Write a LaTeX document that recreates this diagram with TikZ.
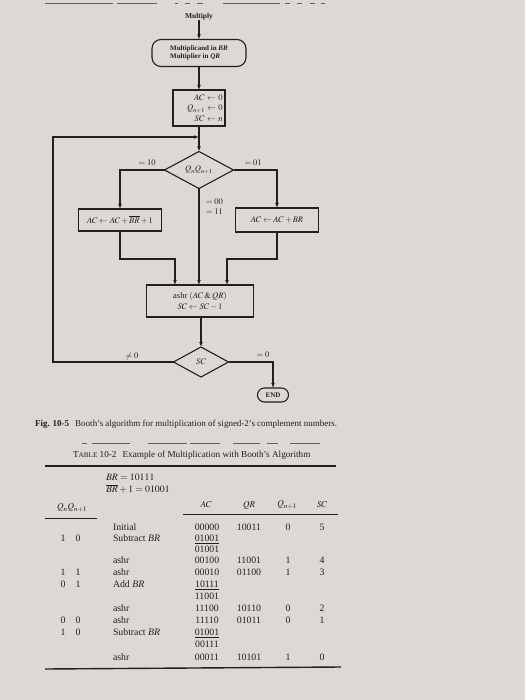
\documentclass[tikz,border=0pt]{standalone}
\usepackage{mathptmx}
\usepackage{fontspec}
\setmainfont{Liberation Serif}
\usetikzlibrary{arrows.meta,shapes.geometric}
\definecolor{paper}{RGB}{220,217,212}
\definecolor{ink}{RGB}{32,32,32}
\definecolor{faint}{RGB}{95,95,95}
\newcommand{\fsz}[2]{\fontsize{#1}{#2}\selectfont}
\begin{document}
\begin{tikzpicture}[x=1pt,y=-1pt,
  every node/.style={text=ink,inner sep=0pt,outer sep=0pt},
  flow/.style={draw=ink,line width=1.3pt},
  arr/.style={flow,-{Latex[length=5pt,width=3.8pt]}},
  procbox/.style={draw=ink,line width=1.1pt,rectangle,font=\fsz{8.5}{10.5}},
  termbox/.style={draw=ink,line width=1.1pt,rectangle,rounded corners=9pt,font=\fsz{7}{8.5}\bfseries},
  decision/.style={draw=ink,line width=1.1pt,diamond,font=\fsz{8.5}{10}},
  lab/.style={font=\fsz{8.5}{10}},
  tcell/.style={font=\fsz{9.8}{11}},
  thead/.style={font=\fsz{9}{10}},
  pagerule/.style={draw=faint,line width=0.8pt}]
\useasboundingbox (0,0) rectangle (525,700);
\fill[paper] (0,0) rectangle (525,700);

% page artifacts (rules at top and between figure and table)
\draw[pagerule] (45,3) -- (113,3) (117,3) -- (157,3) (175,3) -- (178,3) (185,3) -- (190,3) (197,3) -- (203,3) (223,3) -- (280,3) (285,3) -- (290,3) (297,3) -- (302,3) (310,3) -- (315,3) (321,3) -- (325,3);
\draw[pagerule] (82,443) -- (87,443) (92,443) -- (130,443) (148,443) -- (187,443) (190,443) -- (220,443) (233,443) -- (260,443) (267,443) -- (278,443) (290,443) -- (320,443);

% ---------------- flowchart ----------------
\node[font=\fsz{7.5}{9}\bfseries] (mul) at (199,17) {Multiply};
\node[termbox,minimum width=94pt,minimum height=27pt,align=left] (start) at (199,53)
  {Multiplicand in \textit{BR}\\Multiplier in \textit{QR}};
\node[procbox,minimum width=52pt,minimum height=36pt,text width=47pt,align=right] (init) at (199,108)
  {$AC\leftarrow 0$\\$Q_{n+1}\leftarrow 0$\\$SC\leftarrow n$};
\node[decision,minimum width=69pt,minimum height=37pt] (q) at (199,170) {$Q_nQ_{n+1}$};
\node[procbox,minimum width=83pt,minimum height=22pt] (addc) at (120,220) {$AC\leftarrow AC+\overline{BR}+1$};
\node[procbox,minimum width=83pt,minimum height=24pt] (addb) at (277,220) {$AC\leftarrow AC+BR$};
\node[procbox,minimum width=107pt,minimum height=32pt,align=center] (ashr) at (200,301)
  {ashr $(AC\mathbin{\&}QR)$\\$SC\leftarrow SC-1$};
\node[decision,minimum width=55pt,minimum height=30pt] (sc) at (201,362) {$SC$};
\node[termbox,rounded corners=7pt,minimum width=31pt,minimum height=14pt] (end) at (273,395) {END};

\coordinate (loopb) at (53,362);
\coordinate (loopt) at (53,137);
\coordinate (ljoin) at (175,259);
\coordinate (rjoin) at (227,259);

\draw[arr] (mul) -- (start);
\draw[arr] (start) -- (init);
\draw[arr] (init) -- (q);
\draw[arr] (sc.west) -- (loopb) -- (loopt) -- (loopt -| init.south);
\draw[arr] (q.west) -| (addc.north);
\draw[arr] (q.east) -| (addb.north);
\draw[arr] (q.south) -- (q.south |- ashr.north);
\draw[arr] (addc.south) |- (ljoin) -- (ljoin |- ashr.north);
\draw[arr] (addb.south) |- (rjoin) -- (rjoin |- ashr.north);
\draw[arr] (ashr.south -| sc.north) -- (sc.north);
\draw[arr] (sc.east) -| (end.north);

\node[lab] (l10) at (147,163) {$=10$};
\node[lab] (l01) at (253,163) {$=01$};
\node[lab,anchor=west] (l00) at (206,202) {$=00$};
\node[lab,anchor=west] (l11) at (206,212) {$=11$};
\node[lab] (lne) at (132,356) {$\neq 0$};
\node[lab] (leq) at (263,355) {$=0$};

% ---------------- caption ----------------
\node[anchor=west,font=\fsz{9}{10}] (cap) at (35,424)
  {\textbf{Fig. 10-5}\hspace{6pt}Booth's algorithm for multiplication of signed-2's complement numbers.};

% ---------------- table ----------------
\node[anchor=west,font=\fsz{9.2}{10}] (ttl) at (73,455)
  {T{\fsz{7.2}{8}ABLE} 10-2\hspace{6pt}Example of Multiplication with Booth's Algorithm};
\draw[draw=ink,line width=1.3pt] (45,466) -- (336,466);
\node[anchor=west,tcell] (br1) at (106,477) {$BR=10111$};
\node[anchor=west,tcell] (br2) at (106,489) {$\overline{BR}+1=01001$};

\node[thead] (hq) at (72,508) {$Q_nQ_{n+1}$};
\draw[draw=ink,line width=0.9pt] (45,518) -- (97,518);
\node[thead] (hac) at (206,505) {$AC$};
\node[thead] (hqr) at (249,505) {$QR$};
\node[thead] (hqn) at (287,505) {$Q_{n+1}$};
\node[thead] (hsc) at (322,505) {$SC$};
\draw[draw=ink,line width=0.9pt] (183,514) -- (338,514);

\foreach \i/\y/\qa/\qb/\lb/\ac/\qr/\qn/\scv in {
  1/527/{}/{}/Initial/00000/10011/0/5,
  2/538/1/0/{Subtract \textit{BR}}/01001/{}/{}/{},
  3/549/{}/{}/{}/01001/{}/{}/{},
  4/560/{}/{}/ashr/00100/11001/1/4,
  5/572/1/1/ashr/00010/01100/1/3,
  6/584/0/1/{Add \textit{BR}}/10111/{}/{}/{},
  7/596/{}/{}/{}/11001/{}/{}/{},
  8/608/{}/{}/ashr/11100/10110/0/2,
  9/620/0/0/ashr/11110/01011/0/1,
  10/632/1/0/{Subtract \textit{BR}}/01001/{}/{}/{},
  11/644/{}/{}/{}/00111/{}/{}/{},
  12/657/{}/{}/ashr/00011/10101/1/0}{
  \node[tcell] (qa\i) at (63,\y) {\qa};
  \node[tcell] (qb\i) at (78,\y) {\qb};
  \node[tcell,anchor=west] (lb\i) at (113,\y) {\lb};
  \node[tcell] (ac\i) at (207,\y) {\ac};
  \node[tcell] (qr\i) at (249,\y) {\qr};
  \node[tcell] (qn\i) at (288,\y) {\qn};
  \node[tcell] (sc\i) at (322,\y) {\scv};
}
\foreach \i in {2,6,10}{
  \draw[draw=ink,line width=0.8pt] ([yshift=-2.5pt]ac\i.south west) -- ([yshift=-2.5pt]ac\i.south east);
}
\draw[draw=ink,line width=1.4pt] (45,669) -- (341,667);
\end{tikzpicture}
\end{document}
